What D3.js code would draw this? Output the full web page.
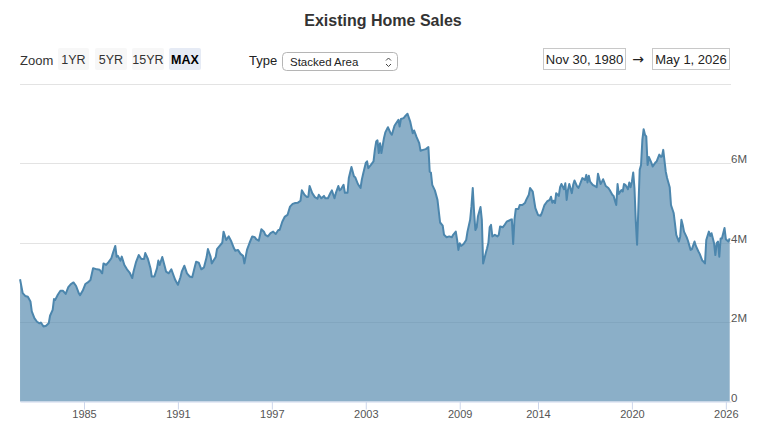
<!DOCTYPE html>
<html>
<head>
<meta charset="utf-8">
<script src="https://cdn.jsdelivr.net/npm/d3@7"></script>
<style>
  html, body { margin: 0; padding: 0; background: #fff; }
  svg { display: block; font-family: "Liberation Sans", Arial, sans-serif; }
</style>
</head>
<body>
<svg id="chart" width="761" height="427"></svg>
<script>
// ---- Data (existing home sales, millions, SAAR) ----
const dates = [
"1980-12","1981-02","1981-04","1981-06","1981-08","1981-09","1981-11","1982-01","1982-03","1982-04",
"1982-06","1982-08","1982-10","1982-11","1983-01","1983-02","1983-03","1983-05","1983-07","1983-09",
"1983-11","1984-01","1984-03","1984-05","1984-07","1984-09","1984-10","1984-12","1985-02","1985-04",
"1985-06","1985-08","1985-11","1986-01","1986-03","1986-04","1986-06","1986-08","1986-10","1986-11",
"1987-01","1987-02","1987-03","1987-05","1987-06","1987-08","1987-10","1987-12","1988-02","1988-03",
"1988-05","1988-07","1988-09","1988-11","1988-12","1989-02","1989-04","1989-05","1989-07","1989-09",
"1989-10","1989-11","1990-01","1990-03","1990-04","1990-06","1990-08","1990-10","1990-11","1991-01",
"1991-03","1991-04","1991-06","1991-08","1991-10","1991-12","1992-02","1992-03","1992-05","1992-07",
"1992-09","1992-11","1992-12","1993-02","1993-03","1993-06","1993-07","1993-09","1993-11","1993-12",
"1994-02","1994-04","1994-06","1994-08","1994-09","1994-11","1995-01","1995-03","1995-04","1995-06",
"1995-08","1995-10","1995-12","1996-01","1996-03","1996-05","1996-07","1996-08","1996-10","1996-12",
"1997-02","1997-04","1997-06","1997-07","1997-09","1997-11","1998-01","1998-03","1998-05","1998-07",
"1998-09","1998-11","1998-12","1999-02","1999-04","1999-05","1999-06","1999-08","1999-10","1999-12",
"2000-01","2000-03","2000-05","2000-06","2000-08","2000-10","2000-11","2001-01","2001-02","2001-04",
"2001-05","2001-06","2001-08","2001-09","2001-11","2001-12","2002-02","2002-04","2002-05","2002-07",
"2002-09","2002-10","2002-11","2003-01","2003-02","2003-03","2003-05","2003-07","2003-08","2003-09",
"2003-10","2003-11","2003-12","2004-01","2004-03","2004-04","2004-06","2004-08","2004-09","2004-11",
"2004-12","2005-02","2005-03","2005-04","2005-06","2005-07","2005-09","2005-11","2006-01","2006-02",
"2006-04","2006-06","2006-07","2006-09","2006-11","2007-01","2007-02","2007-03","2007-04","2007-06",
"2007-08","2007-10","2007-12","2008-01","2008-03","2008-05","2008-07","2008-08","2008-10","2008-11",
"2008-12","2009-01","2009-02","2009-04","2009-06","2009-07","2009-09","2009-10","2009-11","2009-12",
"2010-01","2010-02","2010-03","2010-05","2010-06","2010-07","2010-09","2010-10","2010-11","2010-12",
"2011-01","2011-02","2011-04","2011-06","2011-07","2011-08","2011-10","2011-11","2012-01","2012-03",
"2012-04","2012-05","2012-06","2012-07","2012-08","2012-10","2012-11","2013-01","2013-03","2013-04",
"2013-06","2013-07","2013-09","2013-10","2013-11","2014-01","2014-03","2014-04","2014-06","2014-08",
"2014-10","2014-11","2014-12","2015-01","2015-02","2015-03","2015-05","2015-06","2015-07","2015-09",
"2015-10","2015-11","2015-12","2016-01","2016-03","2016-04","2016-05","2016-07","2016-08","2016-09",
"2016-11","2017-01","2017-02","2017-03","2017-04","2017-05","2017-07","2017-09","2017-10","2017-11",
"2018-01","2018-02","2018-03","2018-05","2018-07","2018-08","2018-10","2018-11","2018-12","2019-01",
"2019-02","2019-03","2019-05","2019-06","2019-07","2019-08","2019-10","2019-11","2019-12","2020-01",
"2020-02","2020-03","2020-04","2020-05","2020-06","2020-07","2020-08","2020-09","2020-10","2020-11",
"2020-12","2021-01","2021-02","2021-04","2021-05","2021-07","2021-08","2021-10","2021-11","2021-12",
"2022-01","2022-03","2022-04","2022-06","2022-07","2022-09","2022-10","2022-11","2023-01","2023-02",
"2023-03","2023-04","2023-05","2023-07","2023-08","2023-10","2023-11","2024-01","2024-02","2024-04",
"2024-05","2024-07","2024-08","2024-09","2024-10","2024-12","2025-01","2025-02","2025-04","2025-05",
"2025-06","2025-07","2025-08","2025-09","2025-10","2025-12","2026-01","2026-03","2026-04"
];
const sales = [
3.08,2.73,2.66,2.64,2.52,2.27,2.10,2.01,1.97,1.99,
1.89,1.91,1.97,2.16,2.31,2.58,2.56,2.69,2.79,2.79,
2.71,2.88,2.96,3.00,2.91,2.73,2.68,2.79,2.96,3.00,
3.06,3.36,3.33,3.32,3.23,3.48,3.44,3.52,3.61,3.72,
3.92,3.65,3.67,3.55,3.65,3.44,3.33,3.25,3.11,3.27,
3.52,3.69,3.59,3.59,3.74,3.59,3.36,3.15,3.15,3.36,
3.55,3.44,3.64,3.40,3.27,3.23,3.33,3.15,3.06,2.94,
3.13,3.27,3.42,3.23,3.15,3.13,3.40,3.52,3.50,3.33,
3.38,3.64,3.84,3.65,3.48,3.64,3.84,3.92,4.00,4.28,
4.07,4.16,4.03,3.86,3.80,3.82,3.72,3.67,3.48,3.82,
4.00,4.16,4.14,4.09,4.05,4.34,4.28,4.20,4.16,4.24,
4.28,4.22,4.32,4.32,4.53,4.66,4.70,4.91,4.98,5.00,
5.01,5.06,5.32,5.21,5.15,5.16,5.43,5.25,5.15,5.11,
5.21,5.12,5.18,5.12,5.12,5.26,5.32,5.12,5.25,5.43,
5.32,5.35,5.46,5.26,5.26,5.63,5.91,5.67,5.65,5.48,
5.38,5.59,5.74,6.01,6.05,5.88,5.96,6.05,6.34,6.55,
6.58,6.26,6.51,6.26,6.64,6.78,6.91,6.76,6.72,6.95,
7.00,7.10,6.93,7.12,7.14,7.18,7.25,7.06,6.76,6.83,
6.66,6.51,6.32,6.34,6.36,6.41,5.79,5.77,5.46,5.32,
5.08,4.51,4.43,4.20,4.14,4.16,4.14,4.20,4.28,4.07,
3.82,3.99,3.92,3.97,4.07,4.28,4.58,4.91,5.38,4.79,
4.32,4.39,4.66,4.90,4.58,3.48,3.74,3.86,4.00,4.39,
4.45,4.16,4.20,4.16,4.20,4.41,4.39,4.43,4.53,4.56,
4.58,4.59,3.97,4.58,4.85,4.85,4.95,4.95,5.00,5.08,
5.21,5.38,5.29,5.08,4.87,4.70,4.68,4.75,4.95,5.04,
5.08,5.16,5.01,5.06,5.00,5.25,5.18,5.40,5.48,5.35,
5.50,5.08,5.33,5.48,5.25,5.46,5.57,5.42,5.38,5.46,
5.63,5.58,5.71,5.52,5.69,5.54,5.46,5.42,5.40,5.74,
5.48,5.54,5.60,5.43,5.38,5.33,5.21,5.18,5.06,4.95,
5.48,5.23,5.33,5.29,5.48,5.46,5.35,5.52,5.40,5.54,
5.77,5.38,4.53,3.95,4.91,5.84,5.96,6.59,6.86,6.72,
6.68,5.96,6.16,6.01,5.92,6.02,6.05,6.22,6.17,6.17,
6.34,5.79,5.63,5.40,4.95,4.75,4.49,4.20,4.03,4.16,
4.58,4.45,4.28,4.14,4.05,3.82,3.84,4.03,3.92,3.78,
3.72,3.55,3.52,3.48,4.07,4.28,4.17,4.24,3.99,3.69,
3.99,4.03,3.65,4.11,4.11,4.37,4.09,4.03,4.11
];
const xTickYears = [1985, 1991, 1997, 2003, 2009, 2014, 2020, 2026];
const yGridValues = [2, 4, 6, 8];
const yLabelValues = [0, 2, 4, 6];
const zoomButtons = ["1YR", "5YR", "15YR", "MAX"];
const rangeStart = "Nov 30, 1980";
const rangeEnd = "May 1, 2026";
const chartTitle = "Existing Home Sales";

// ---- Setup ----
const svg = d3.select("#chart");
const parse = d3.utcParse("%Y-%m");
const data = dates.map((d, i) => ({ date: parse(d), value: sales[i] }));

const x = d3.scaleUtc()
  .domain([Date.UTC(1980, 10, 30), Date.UTC(2026, 4, 1)])
  .range([20, 731]);
const y = d3.scaleLinear().domain([0, 8]).range([401.5, 84]);

svg.append("rect").attr("width", 761).attr("height", 427).attr("fill", "#fff");

// Title
svg.append("text")
  .attr("x", 383).attr("y", 26)
  .attr("text-anchor", "middle")
  .attr("font-size", 16).attr("font-weight", "bold").attr("fill", "#333")
  .text(chartTitle);

// Zoom controls
svg.append("text").attr("x", 20).attr("y", 64.5)
  .attr("font-size", 13).attr("fill", "#333").text("Zoom");
const btnX = [58, 95, 132, 169];
const btnW = [31, 32, 32, 32];
zoomButtons.forEach((b, i) => {
  const active = b === "MAX";
  svg.append("rect")
    .attr("x", btnX[i]).attr("y", 48).attr("width", btnW[i]).attr("height", 22)
    .attr("rx", 2)
    .attr("fill", active ? "#e6ebf5" : "#f7f7f7");
  svg.append("text")
    .attr("x", btnX[i] + btnW[i] / 2).attr("y", 64)
    .attr("text-anchor", "middle")
    .attr("font-size", 12.5)
    .attr("font-weight", active ? "bold" : "normal")
    .attr("fill", active ? "#000" : "#333")
    .text(b);
});

// Type select
svg.append("text").attr("x", 249).attr("y", 65)
  .attr("font-size", 13).attr("fill", "#222").text("Type");
svg.append("rect")
  .attr("x", 282.5).attr("y", 52.5).attr("width", 115).attr("height", 18)
  .attr("rx", 4).attr("fill", "#fff").attr("stroke", "#b5b5b5");
svg.append("text").attr("x", 290).attr("y", 66)
  .attr("font-size", 11.5).attr("fill", "#222").text("Stacked Area");
svg.append("path")
  .attr("d", "M386,60.5 L388.5,58 L391,60.5 M386,64 L388.5,66.5 L391,64")
  .attr("fill", "none").attr("stroke", "#444").attr("stroke-width", 1);

// Date range inputs
svg.append("rect").attr("x", 543.5).attr("y", 48.5).attr("width", 82).attr("height", 21)
  .attr("fill", "#fff").attr("stroke", "#c8c8c8");
svg.append("text").attr("x", 584.5).attr("y", 64)
  .attr("text-anchor", "middle").attr("font-size", 13).attr("fill", "#222").text(rangeStart);
svg.append("text").attr("x", 638).attr("y", 64)
  .attr("text-anchor", "middle").attr("font-size", 14)
  .attr("font-family", "'DejaVu Sans', sans-serif").attr("fill", "#222").text("\u2192");
svg.append("rect").attr("x", 652.5).attr("y", 48.5).attr("width", 77).attr("height", 21)
  .attr("fill", "#fff").attr("stroke", "#c8c8c8");
svg.append("text").attr("x", 691).attr("y", 64)
  .attr("text-anchor", "middle").attr("font-size", 13).attr("fill", "#222").text(rangeEnd);

// Gridlines
svg.append("g").selectAll("line").data(yGridValues).join("line")
  .attr("x1", 20).attr("x2", 731)
  .attr("y1", d => Math.round(y(d)) + 0.5).attr("y2", d => Math.round(y(d)) + 0.5)
  .attr("stroke", "#e3e3e3").attr("stroke-width", 1);

// Area + line
const area = d3.area()
  .x(d => x(d.date)).y0(y(0)).y1(d => y(d.value));
const line = d3.line()
  .x(d => x(d.date)).y(d => y(d.value));

svg.append("path").datum(data)
  .attr("d", area)
  .attr("fill", "#4f86ab").attr("fill-opacity", 0.66);
svg.append("path").datum(data)
  .attr("d", line)
  .attr("fill", "none").attr("stroke", "#4c86ad")
  .attr("stroke-width", 2).attr("stroke-linejoin", "round");

// Y labels (right side)
svg.append("g").selectAll("text").data(yLabelValues).join("text")
  .attr("x", 731).attr("y", d => y(d))
  .attr("font-size", 11.5).attr("fill", "#555")
  .text(d => d === 0 ? "0" : d + "M");

// X axis
const xAxis = d3.axisBottom(x)
  .tickValues(xTickYears.map(yr => new Date(Date.UTC(yr, 0, 1))))
  .tickFormat(d3.utcFormat("%Y"))
  .tickSize(8).tickSizeOuter(0).tickPadding(1);
const gx = svg.append("g")
  .attr("transform", `translate(0,${y(0)})`)
  .call(xAxis);
gx.select(".domain").attr("stroke", "#ccd6eb");
gx.selectAll(".tick line").attr("stroke", "#ccd6eb");
gx.selectAll(".tick text")
  .attr("font-size", 11).attr("fill", "#555")
  .attr("font-family", "'Liberation Sans', Arial, sans-serif");
</script>
</body>
</html>
